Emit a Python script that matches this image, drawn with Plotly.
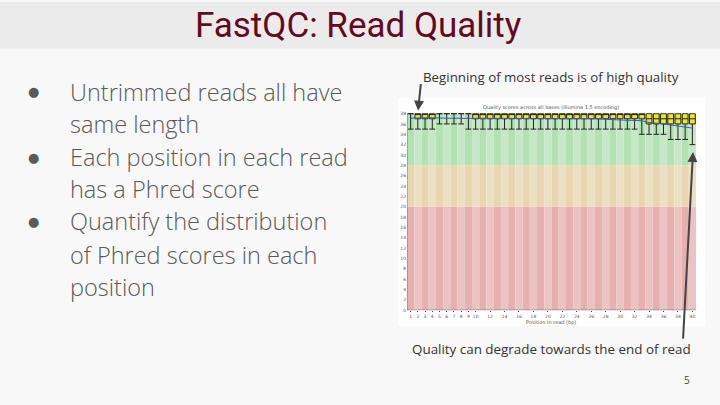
import plotly.graph_objects as go

# per-base quality (FastQC style box plot)
positions = [1, 2, 3, 4, 5, 6, 7, 8, 9, 10, 11, 12, 13, 14, 15, 16, 17, 18, 19, 20,
             21, 22, 23, 24, 25, 26, 27, 28, 29, 30, 31, 32, 33, 34, 35, 36, 37, 38, 39, 40]
upper = [38] * 40
q3 = [38] * 40
median = [38, 38, 38, 38, 38, 38, 38, 38, 38, 38, 38, 38, 38, 38, 38, 38, 38, 38, 38, 38,
          38, 38, 38, 38, 38, 38, 38, 38, 38, 38, 38, 38, 38, 37, 37, 37, 37, 37, 37, 37]
q1 = [38, 37, 37, 37, 38, 38, 38, 38, 38, 37, 37, 37, 37, 37, 37, 37, 37, 37, 37, 37,
      37, 37, 37, 37, 37, 37, 37, 37, 37, 37, 37, 37, 37, 36, 36, 36, 36, 36, 36, 36]
lower = [35, 35, 35, 35, 36, 36, 36, 36, 35, 35, 35, 35, 35, 35, 35, 35, 35, 35, 35, 35,
         35, 35, 35, 35, 35, 35, 35, 35, 35, 35, 35, 35, 34, 34, 34, 34, 33, 33, 33, 32]
mean = [37.1, 37.2, 37.2, 37.2, 37.1, 37.1, 37.1, 37.1, 37.0, 37.0, 37.0, 37.0, 37.0, 37.0,
        37.0, 37.0, 37.0, 37.0, 37.0, 37.0, 37.0, 37.0, 37.0, 37.0, 37.0, 37.0, 37.0, 36.9,
        36.8, 36.8, 36.7, 36.7, 36.6, 36.3, 36.2, 36.0, 35.8, 35.6, 35.5, 35.2]

tick_vals = [1, 2, 3, 4, 5, 6, 7, 8, 9, 10, 12, 14, 16, 18, 20, 22, 24, 26, 28, 30,
             32, 34, 36, 38, 40]
tick_text = [str(v) for v in tick_vals]

bullets = ["Untrimmed reads all have", "same length", "Each position in each read",
           "has a Phred score", "Quantify the distribution", "of Phred scores in each",
           "position"]
bullet_start = [True, False, True, False, True, False, False]

fig = go.Figure()

fig.add_trace(go.Box(
    x=positions, q1=q1, median=median, q3=q3,
    lowerfence=lower, upperfence=upper,
    fillcolor="#f0e628", line=dict(color="#222", width=1),
    whiskerwidth=1, width=0.8, hoverinfo="skip",
))
fig.add_trace(go.Scatter(
    x=positions, y=mean, mode="lines",
    line=dict(color="#3a55c8", width=1), hoverinfo="skip",
))

# coloured quality zones with alternating stripes
zones = [(0, 20, "#e6b0b0", "#ebc3c3"), (20, 28, "#e8d6b0", "#ecdfc2"),
         (28, 38, "#b2e2b2", "#c7e8c7")]
shapes = []
# slide header + chart image background
shapes.append(dict(type="rect", xref="paper", yref="paper", x0=0, x1=1,
                   y0=1 - 47 / 405, y1=1, fillcolor="#ebebeb", line_width=0,
                   layer="below"))
shapes.append(dict(type="rect", xref="paper", yref="paper", x0=398 / 720,
                   x1=705 / 720, y0=1 - 328 / 405, y1=1 - 97 / 405,
                   fillcolor="white", line_width=0, layer="below"))
for y0, y1, c_dark, c_light in zones:
    for p in positions:
        shapes.append(dict(type="rect", xref="x", yref="y", x0=p - 0.5, x1=p + 0.5,
                           y0=y0, y1=y1, fillcolor=c_dark if p % 2 else c_light,
                           line_width=0, layer="below"))
shapes.append(dict(type="line", xref="x", yref="y", x0=0.5, x1=40.5, y0=0, y1=0,
                   line=dict(color="#777", width=1)))
shapes.append(dict(type="line", xref="x", yref="y", x0=0.5, x1=0.5, y0=0, y1=38,
                   line=dict(color="#777", width=1)))


def note(txt, x, y, size, color="#333", family="Open Sans", xanchor="center", **kw):
    return dict(text=txt, xref="paper", yref="paper", x=x / 720, y=1 - y / 405,
                xanchor=xanchor, yanchor="middle", showarrow=False,
                font=dict(family=family, size=size, color=color, **kw))


annotations = [note("FastQC: Read Quality", 358, 24, 35, "#650a1e", "Roboto")]
line_y = [91, 124, 157, 189, 222, 256, 289]
for txt, is_start, ly in zip(bullets, bullet_start, line_y):
    annotations.append(note(txt, 68, ly, 23.5, "#595959", xanchor="left", weight=300))
    if is_start:
        annotations.append(note("●", 33, ly, 13, "#595959", "DejaVu Sans"))
annotations.append(note("Beginning of most reads is of high quality", 551, 76, 13.3))
annotations.append(note("Quality can degrade towards the end of read", 551, 351, 13.4))
annotations.append(note("5", 687, 383, 10, "#444"))
annotations.append(note("Quality scores across all bases (Illumina 1.5 encoding)",
                        551, 107, 5, "#555", "DejaVu Sans"))
annotations.append(note("Position in read (bp)", 551, 324, 5, "#555", "DejaVu Sans"))
annotations.append(dict(text="", xref="paper", yref="paper", x=418 / 720,
                        y=1 - 110 / 405, ax=3, ay=-28, showarrow=True, arrowhead=2,
                        arrowsize=1, arrowwidth=2, arrowcolor="#444"))
annotations.append(dict(text="", xref="paper", yref="paper", x=693 / 720,
                        y=1 - 152 / 405, ax=-10, ay=188, showarrow=True, arrowhead=2,
                        arrowsize=1, arrowwidth=2, arrowcolor="#444"))

fig.update_layout(
    width=720, height=405,
    margin=dict(l=0, r=0, t=0, b=0),
    paper_bgcolor="#f8f8f8", plot_bgcolor="white",
    showlegend=False,
    shapes=shapes, annotations=annotations,
    xaxis=dict(domain=[407 / 720, 696 / 720], range=[0.5, 40.5],
               tickvals=tick_vals, ticktext=tick_text, tickangle=0,
               showgrid=False, zeroline=False, ticks="outside", ticklen=1,
               tickfont=dict(family="DejaVu Sans", size=4.5, color="#555")),
    yaxis=dict(domain=[1 - 312 / 405, 1 - 113 / 405], range=[0, 38],
               tickvals=list(range(0, 39, 2)), showgrid=False, zeroline=False,
               tickfont=dict(family="DejaVu Sans", size=4.5, color="#555")),
)

# drop the browser's default page margin so the slide sits at (0, 0)
fig.write_html("out.html", config={"displayModeBar": False},
               post_script="document.body.style.margin='0';")
